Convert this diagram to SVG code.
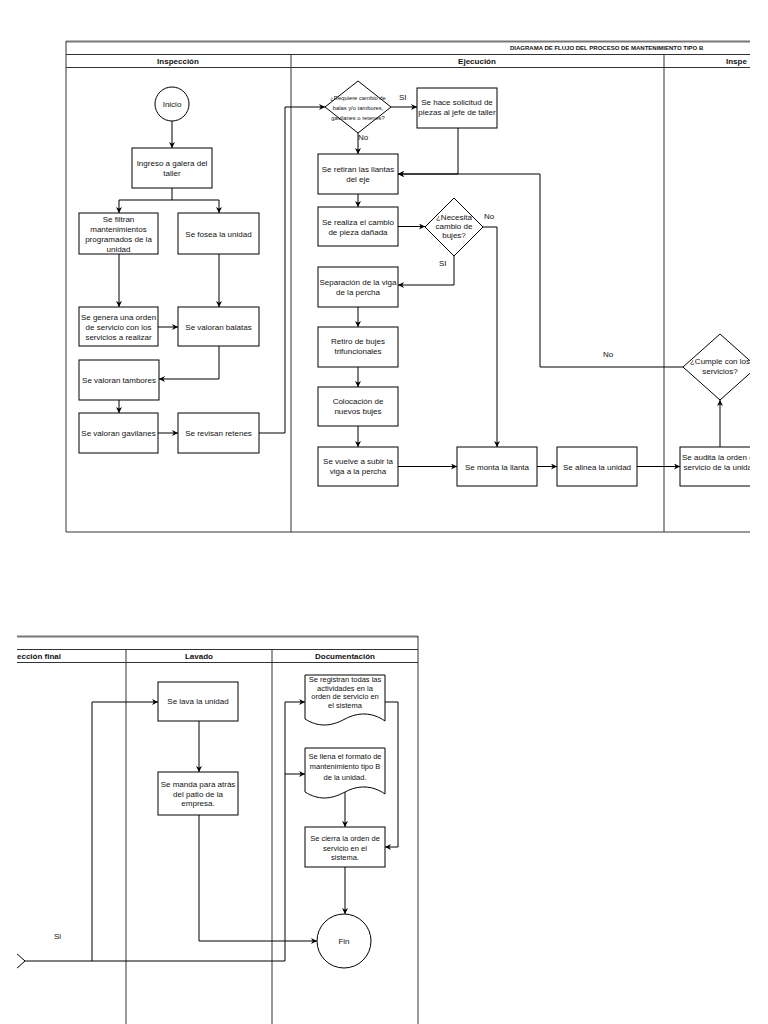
<svg xmlns="http://www.w3.org/2000/svg" width="768" height="1024" viewBox="0 0 768 1024">
<style>
text{font-family:"Liberation Sans",Arial,sans-serif;fill:#111;}
.t{font-size:8px;text-anchor:middle;}
.ts{font-size:7.5px;text-anchor:middle;}
.tx{font-size:5.8px;text-anchor:middle;}
.h{font-size:8px;font-weight:bold;text-anchor:middle;}
.ti{font-size:6px;font-weight:bold;}
.lb{font-size:8px;}
.n{fill:#fff;stroke:#000;stroke-width:1;}
.ln{fill:none;stroke:#333;stroke-width:1;}
.lt{fill:none;stroke:#777;stroke-width:2;}
.c{fill:none;stroke:#000;stroke-width:1;}
.ca{fill:none;stroke:#000;stroke-width:1;marker-end:url(#a);}
</style>
<defs>
<marker id="a" viewBox="0 0 10 10" refX="10" refY="5" markerWidth="6" markerHeight="6" orient="auto" markerUnits="userSpaceOnUse"><path d="M0,0 L10,5 L0,10 L3,5 z" fill="#000"/></marker>
<clipPath id="cT"><rect x="0" y="0" width="750" height="600"/></clipPath>
<clipPath id="cB"><rect x="17" y="600" width="751" height="424"/></clipPath>
</defs>
<rect width="768" height="1024" fill="#fff"/>

<g clip-path="url(#cT)">
<g id="lanes-top">
<line class="lt" x1="66" y1="41.5" x2="760" y2="41.5"/>
<line class="ln" x1="66" y1="54.5" x2="760" y2="54.5"/>
<line class="ln" x1="66" y1="67.5" x2="760" y2="67.5"/>
<line class="ln" x1="66" y1="532" x2="760" y2="532"/>
<line class="ln" x1="66" y1="41" x2="66" y2="532"/>
<line class="ln" x1="291" y1="54.5" x2="291" y2="532"/>
<line class="ln" x1="664" y1="54.5" x2="664" y2="532"/>
<text class="ti" x="510" y="49.8">DIAGRAMA DE FLUJO DEL PROCESO DE MANTENIMIENTO TIPO B</text>
<text class="h" x="178" y="63.5">Inspección</text>
<text class="h" x="477" y="63.5">Ejecución</text>
<text class="h" x="726" y="63.5" style="text-anchor:start">Inspe</text>
</g>

<g id="connectors-top">
<path class="ca" d="M172,121 V148"/>
<path class="ca" d="M172,188 V200 H119 V213"/>
<path class="ca" d="M172,200 H219 V213"/>
<path class="ca" d="M119,254 V307"/>
<path class="ca" d="M219,254 V307"/>
<path class="ca" d="M158,327 H178"/>
<path class="ca" d="M219,346 V379 H159"/>
<path class="ca" d="M119,400 V413"/>
<path class="ca" d="M158,433 H178"/>
<path class="ca" d="M259,433 H285 V107 H325"/>
<path class="ca" d="M391,107 H417"/>
<text class="lb" x="399" y="100">SI</text>
<path class="ca" d="M358,133 V154"/>
<text class="lb" x="358" y="140">No</text>
<path class="ca" d="M458,128 V174 H398"/>
<path class="ca" d="M683,367 H540 V174 H398"/>
<text class="lb" x="603" y="357">No</text>
<path class="ca" d="M358,194 V207"/>
<path class="ca" d="M398,226.5 H425"/>
<path class="ca" d="M483,227 H497 V447"/>
<text class="lb" x="484" y="219">No</text>
<path class="ca" d="M454,256 V285 H398"/>
<text class="lb" x="439" y="266">SI</text>
<path class="ca" d="M358,307 V327"/>
<path class="ca" d="M358,367 V387"/>
<path class="ca" d="M358,426 V447"/>
<path class="ca" d="M398,466.5 H457"/>
<path class="ca" d="M537,466.5 H557"/>
<path class="ca" d="M637,466.5 H680"/>
<path class="ca" d="M720,447 V400"/>
</g>

<g id="inicio"><circle class="n" cx="172" cy="104" r="17"/><text class="t" x="172" y="107">Inicio</text></g>
<g id="ingreso"><rect class="n" x="132" y="148" width="80" height="40"/><text class="t" x="172" y="166">Ingreso a galera del</text><text class="t" x="172" y="176">taller</text></g>
<g id="filtran"><rect class="n" x="79" y="213" width="79" height="41"/><text class="t" x="118.5" y="221.5">Se filtran</text><text class="t" x="118.5" y="231.5">mantenimientos</text><text class="t" x="118.5" y="241.5">programados de la</text><text class="t" x="118.5" y="251.5">unidad</text></g>
<g id="fosea"><rect class="n" x="178" y="213" width="81" height="41"/><text class="t" x="218.5" y="236.5">Se fosea la unidad</text></g>
<g id="genera"><rect class="n" x="79" y="307" width="79" height="39"/><text class="t" x="118.5" y="319.5">Se genera una orden</text><text class="t" x="118.5" y="329.5">de servicio con los</text><text class="t" x="118.5" y="339.5">servicios a realizar</text></g>
<g id="balatas"><rect class="n" x="178" y="307" width="81" height="39"/><text class="t" x="218.5" y="329.5">Se valoran balatas</text></g>
<g id="tambores"><rect class="n" x="79" y="360" width="80" height="40"/><text class="t" x="119" y="383">Se valoran tambores</text></g>
<g id="gavilanes"><rect class="n" x="79" y="413" width="79" height="40"/><text class="t" x="118.5" y="436">Se valoran gavilanes</text></g>
<g id="retenes"><rect class="n" x="178" y="413" width="81" height="40"/><text class="t" x="218.5" y="436">Se revisan retenes</text></g>

<g id="requiere"><polygon class="n" points="358,81 391,107 358,133 325,107"/><text class="tx" x="358" y="100">¿Requiere cambio de</text><text class="tx" x="358" y="110">balas y/o tambores,</text><text class="tx" x="358" y="120">gavilanes o retenes?</text></g>
<g id="solicitud"><rect class="n" x="417" y="88" width="80" height="40"/><text class="t" x="457" y="105">Se hace solicitud de</text><text class="t" x="457" y="115">piezas al jefe de taller</text></g>
<g id="retiran"><rect class="n" x="318" y="154" width="80" height="40"/><text class="t" x="358" y="172">Se retiran las llantas</text><text class="t" x="358" y="182">del eje</text></g>
<g id="realiza"><rect class="n" x="318" y="207" width="80" height="39"/><text class="t" x="358" y="224.5">Se realiza el cambio</text><text class="t" x="358" y="234.5">de pieza dañada</text></g>
<g id="necesita"><polygon class="n" points="454,198 483,227 454,256 425,227"/><text class="t" x="454" y="220">¿Necesita</text><text class="t" x="454" y="229">cambio de</text><text class="t" x="454" y="238">bujes?</text></g>
<g id="separacion"><rect class="n" x="318" y="267" width="80" height="40"/><text class="t" x="358" y="285">Separación de la viga</text><text class="t" x="358" y="295">de la percha</text></g>
<g id="retiro"><rect class="n" x="318" y="327" width="80" height="40"/><text class="t" x="358" y="344">Retiro de bujes</text><text class="t" x="358" y="354">trifuncionales</text></g>
<g id="colocacion"><rect class="n" x="318" y="387" width="80" height="39"/><text class="t" x="358" y="404">Colocación de</text><text class="t" x="358" y="414">nuevos bujes</text></g>
<g id="vuelve"><rect class="n" x="318" y="447" width="80" height="39"/><text class="t" x="358" y="464">Se vuelve a subir la</text><text class="t" x="358" y="474">viga a la percha</text></g>
<g id="monta"><rect class="n" x="457" y="447" width="80" height="39"/><text class="t" x="497" y="470">Se monta la llanta</text></g>
<g id="alinea"><rect class="n" x="557" y="447" width="80" height="39"/><text class="t" x="597" y="470">Se alinea la unidad</text></g>
<g id="audita"><rect class="n" x="680" y="447" width="80" height="39"/><text class="t" x="720" y="460">Se audita la orden de</text><text class="t" x="720" y="470">servicio de la unidad</text></g>
<g id="cumple"><polygon class="n" points="720,334 757,367 720,400 683,367"/><text class="t" x="720" y="364">¿Cumple con los</text><text class="t" x="720" y="374">servicios?</text></g>
</g>

<g clip-path="url(#cB)">
<g id="lanes-bottom">
<line class="lt" x1="0" y1="636.5" x2="418" y2="636.5"/>
<line class="ln" x1="0" y1="649.5" x2="418" y2="649.5"/>
<line class="ln" x1="0" y1="662.5" x2="418" y2="662.5"/>
<line class="ln" x1="126" y1="649.5" x2="126" y2="1024"/>
<line class="ln" x1="272" y1="649.5" x2="272" y2="1024"/>
<line class="ln" x1="418" y1="636" x2="418" y2="1024"/>
<text class="h" x="17" y="658.5" style="text-anchor:start">ección final</text>
<text class="h" x="199" y="658.5">Lavado</text>
<text class="h" x="345" y="658.5">Documentación</text>
</g>

<g id="connectors-bottom">
<path class="ca" d="M25,961 H285 V702 H305"/>
<path class="ca" d="M92,961 V702 H158"/>
<path class="ca" d="M285,774 H305"/>
<text class="lb" x="54" y="939">Si</text>
<path class="ca" d="M199,721 V772"/>
<path class="ca" d="M199,815 V941 H317"/>
<path class="ca" d="M385,702 H398 V847 H385"/>
<path class="ca" d="M345,792 V827"/>
<path class="ca" d="M345,867 V914"/>
</g>

<g id="cumple-cont"><polygon class="n" points="-12,928 25,961 -12,994 -49,961"/></g>
<g id="lava"><rect class="n" x="158" y="682" width="80" height="39"/><text class="t" x="198" y="704">Se lava la unidad</text></g>
<g id="manda"><rect class="n" x="158" y="772" width="80" height="43"/><text class="t" x="198" y="787">Se manda para atrás</text><text class="t" x="198" y="796.5">del patio de la</text><text class="t" x="198" y="806">empresa.</text></g>
<g id="registran"><path class="n" d="M305,675 H385 V721 C372,712 358,712 345,719 C330,727 318,727 305,719 Z"/><text class="ts" x="345" y="682">Se registran todas las</text><text class="ts" x="345" y="690.5">actividades en la</text><text class="ts" x="345" y="699">orden de servicio en</text><text class="ts" x="345" y="707.5">el sistema</text></g>
<g id="llena"><path class="n" d="M305,748 H385 V794 C372,785 358,785 345,792 C330,800 318,800 305,792 Z"/><text class="ts" x="345" y="759">Se llena el formato de</text><text class="ts" x="345" y="769">mantenimiento tipo B</text><text class="ts" x="345" y="779.5">de la unidad.</text></g>
<g id="cierra"><rect class="n" x="305" y="827" width="80" height="40"/><text class="ts" x="345" y="841">Se cierra la orden de</text><text class="ts" x="345" y="850.5">servicio en el</text><text class="ts" x="345" y="860">sistema.</text></g>
<g id="fin"><circle class="n" cx="344" cy="941" r="27"/><text class="t" x="344" y="944">Fin</text></g>
</g>
</svg>
